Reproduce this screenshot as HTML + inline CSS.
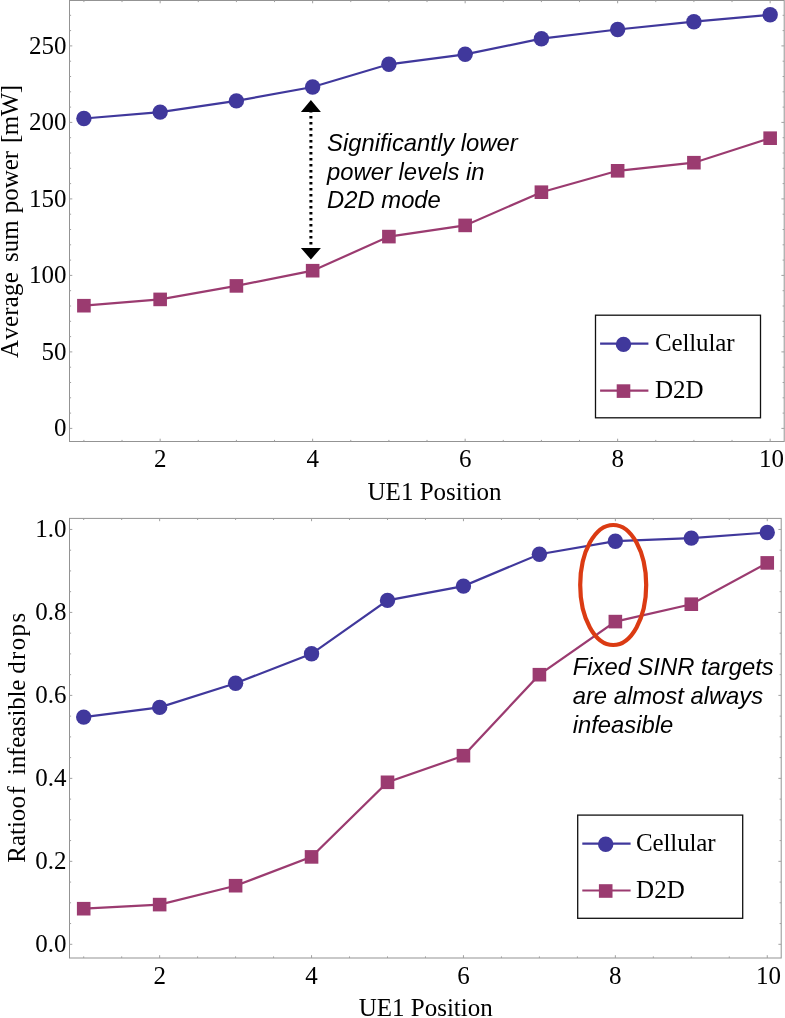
<!DOCTYPE html>
<html><head><meta charset="utf-8"><title>UE1 Position charts</title>
<style>
html,body{margin:0;padding:0;background:#fff}
svg{display:block}
.s{font-family:"Liberation Serif", serif;font-size:25px;fill:#000;font-kerning:none}
.i{font-family:"Liberation Sans", sans-serif;font-size:23.8px;font-style:italic;fill:#000}
</style></head><body>
<svg width="785" height="1018" viewBox="0 0 785 1018">
<rect width="785" height="1018" fill="#fff"/>
<rect x="69.5" y="0.5" width="714.7" height="441.0" fill="none" stroke="#939393" stroke-width="1"/>
<path d="M83.90 441.5v-1.6M83.90 0.5v1.6M122.03 441.5v-1.6M122.03 0.5v1.6M160.15 441.5v-2.8M160.15 0.5v2.8M198.28 441.5v-1.6M198.28 0.5v1.6M236.40 441.5v-1.6M236.40 0.5v1.6M274.52 441.5v-1.6M274.52 0.5v1.6M312.65 441.5v-2.8M312.65 0.5v2.8M350.77 441.5v-1.6M350.77 0.5v1.6M388.90 441.5v-1.6M388.90 0.5v1.6M427.02 441.5v-1.6M427.02 0.5v1.6M465.15 441.5v-2.8M465.15 0.5v2.8M503.27 441.5v-1.6M503.27 0.5v1.6M541.40 441.5v-1.6M541.40 0.5v1.6M579.52 441.5v-1.6M579.52 0.5v1.6M617.65 441.5v-2.8M617.65 0.5v2.8M655.77 441.5v-1.6M655.77 0.5v1.6M693.90 441.5v-1.6M693.90 0.5v1.6M732.02 441.5v-1.6M732.02 0.5v1.6M770.15 441.5v-2.8M770.15 0.5v2.8M69.5 428.40h2.8M784.2 428.40h-2.8M69.5 351.90h2.8M784.2 351.90h-2.8M69.5 275.40h2.8M784.2 275.40h-2.8M69.5 198.90h2.8M784.2 198.90h-2.8M69.5 122.40h2.8M784.2 122.40h-2.8M69.5 45.90h2.8M784.2 45.90h-2.8M69.5 413.10h1.6M784.2 413.10h-1.6M69.5 397.80h1.6M784.2 397.80h-1.6M69.5 382.50h1.6M784.2 382.50h-1.6M69.5 367.20h1.6M784.2 367.20h-1.6M69.5 336.60h1.6M784.2 336.60h-1.6M69.5 321.30h1.6M784.2 321.30h-1.6M69.5 306.00h1.6M784.2 306.00h-1.6M69.5 290.70h1.6M784.2 290.70h-1.6M69.5 260.10h1.6M784.2 260.10h-1.6M69.5 244.80h1.6M784.2 244.80h-1.6M69.5 229.50h1.6M784.2 229.50h-1.6M69.5 214.20h1.6M784.2 214.20h-1.6M69.5 183.60h1.6M784.2 183.60h-1.6M69.5 168.30h1.6M784.2 168.30h-1.6M69.5 153.00h1.6M784.2 153.00h-1.6M69.5 137.70h1.6M784.2 137.70h-1.6M69.5 107.10h1.6M784.2 107.10h-1.6M69.5 91.80h1.6M784.2 91.80h-1.6M69.5 76.50h1.6M784.2 76.50h-1.6M69.5 61.20h1.6M784.2 61.20h-1.6M69.5 30.60h1.6M784.2 30.60h-1.6M69.5 15.30h1.6M784.2 15.30h-1.6" stroke="#a0a0a0" stroke-width="1" fill="none"/>
<text x="66.6" y="436.10" text-anchor="end" class="s">0</text>
<text x="66.6" y="359.60" text-anchor="end" class="s">50</text>
<text x="66.6" y="283.10" text-anchor="end" class="s">100</text>
<text x="66.6" y="206.60" text-anchor="end" class="s">150</text>
<text x="66.6" y="130.10" text-anchor="end" class="s">200</text>
<text x="66.6" y="53.60" text-anchor="end" class="s">250</text>
<text x="160.15" y="467.2" text-anchor="middle" class="s">2</text>
<text x="312.65" y="467.2" text-anchor="middle" class="s">4</text>
<text x="465.15" y="467.2" text-anchor="middle" class="s">6</text>
<text x="617.65" y="467.2" text-anchor="middle" class="s">8</text>
<text x="771.45" y="467.2" text-anchor="middle" class="s">10</text>
<text x="434.6" y="500.3" text-anchor="middle" class="s">UE1 Position</text>
<text transform="translate(17.6,358) rotate(-90)" class="s"><tspan x="0" style="letter-spacing:0.2px">Average</tspan> <tspan x="96.1" style="letter-spacing:0px">sum</tspan> <tspan x="144.7" style="letter-spacing:0px">power</tspan> <tspan x="215" style="letter-spacing:-0.5px">[mW]</tspan></text>
<polyline points="83.90,118.50 160.15,112.10 236.40,100.90 312.65,87.00 388.90,64.30 465.15,54.30 541.40,38.70 617.65,29.50 693.90,21.70 770.15,14.80" fill="none" stroke="#40389C" stroke-width="2.2"/>
<polyline points="83.90,305.70 160.15,299.40 236.40,285.90 312.65,270.70 388.90,236.60 465.15,225.40 541.40,192.20 617.65,170.80 693.90,162.70 770.15,138.20" fill="none" stroke="#9B3B70" stroke-width="2.2"/>
<circle cx="83.90" cy="118.50" r="7.7" fill="#40389C"/>
<circle cx="160.15" cy="112.10" r="7.7" fill="#40389C"/>
<circle cx="236.40" cy="100.90" r="7.7" fill="#40389C"/>
<circle cx="312.65" cy="87.00" r="7.7" fill="#40389C"/>
<circle cx="388.90" cy="64.30" r="7.7" fill="#40389C"/>
<circle cx="465.15" cy="54.30" r="7.7" fill="#40389C"/>
<circle cx="541.40" cy="38.70" r="7.7" fill="#40389C"/>
<circle cx="617.65" cy="29.50" r="7.7" fill="#40389C"/>
<circle cx="693.90" cy="21.70" r="7.7" fill="#40389C"/>
<circle cx="770.15" cy="14.80" r="7.7" fill="#40389C"/>
<rect x="77.10" y="298.90" width="13.6" height="13.6" fill="#9B3B70"/>
<rect x="153.35" y="292.60" width="13.6" height="13.6" fill="#9B3B70"/>
<rect x="229.60" y="279.10" width="13.6" height="13.6" fill="#9B3B70"/>
<rect x="305.85" y="263.90" width="13.6" height="13.6" fill="#9B3B70"/>
<rect x="382.10" y="229.80" width="13.6" height="13.6" fill="#9B3B70"/>
<rect x="458.35" y="218.60" width="13.6" height="13.6" fill="#9B3B70"/>
<rect x="534.60" y="185.40" width="13.6" height="13.6" fill="#9B3B70"/>
<rect x="610.85" y="164.00" width="13.6" height="13.6" fill="#9B3B70"/>
<rect x="687.10" y="155.90" width="13.6" height="13.6" fill="#9B3B70"/>
<rect x="763.35" y="131.40" width="13.6" height="13.6" fill="#9B3B70"/>
<rect x="595.5" y="315.2" width="165" height="102.6" fill="#fff" stroke="#111" stroke-width="1.3"/>
<path d="M600.1 343.7h48.3" stroke="#40389C" stroke-width="2.2"/>
<circle cx="623.5" cy="344.4" r="7.7" fill="#40389C"/>
<path d="M600.1 390.6h48.3" stroke="#9B3B70" stroke-width="2.2"/>
<rect x="616.7" y="384.3" width="13.6" height="13.6" fill="#9B3B70"/>
<text x="655.0" y="351.0" class="s" style="letter-spacing:-0.15px">Cellular</text>
<text x="655.0" y="398.4" class="s">D2D</text>
<path d="M310.9 111V249" stroke="#000" stroke-width="3" stroke-dasharray="2.6 3.4" stroke-dashoffset="-4.9" fill="none"/>
<path d="M310.9 100l10 12h-20zM310.9 259.5l10 -11.5h-20z" fill="#000"/>
<text class="i" x="327.1" y="150.5">Significantly lower</text>
<text class="i" x="327.1" y="179.5">power levels in</text>
<text class="i" x="327.1" y="208.2">D2D mode</text>
<rect x="69.5" y="518.4" width="711.7" height="439.6" fill="none" stroke="#939393" stroke-width="1"/>
<path d="M83.70 958v-1.6M83.70 518.4v1.6M121.68 958v-1.6M121.68 518.4v1.6M159.65 958v-2.8M159.65 518.4v2.8M197.62 958v-1.6M197.62 518.4v1.6M235.60 958v-1.6M235.60 518.4v1.6M273.57 958v-1.6M273.57 518.4v1.6M311.55 958v-2.8M311.55 518.4v2.8M349.52 958v-1.6M349.52 518.4v1.6M387.50 958v-1.6M387.50 518.4v1.6M425.48 958v-1.6M425.48 518.4v1.6M463.45 958v-2.8M463.45 518.4v2.8M501.43 958v-1.6M501.43 518.4v1.6M539.40 958v-1.6M539.40 518.4v1.6M577.38 958v-1.6M577.38 518.4v1.6M615.35 958v-2.8M615.35 518.4v2.8M653.33 958v-1.6M653.33 518.4v1.6M691.30 958v-1.6M691.30 518.4v1.6M729.28 958v-1.6M729.28 518.4v1.6M767.25 958v-2.8M767.25 518.4v2.8M69.5 944.30h2.8M781.2 944.30h-2.8M69.5 861.33h2.8M781.2 861.33h-2.8M69.5 778.36h2.8M781.2 778.36h-2.8M69.5 695.39h2.8M781.2 695.39h-2.8M69.5 612.42h2.8M781.2 612.42h-2.8M69.5 529.45h2.8M781.2 529.45h-2.8M69.5 923.56h1.6M781.2 923.56h-1.6M69.5 902.81h1.6M781.2 902.81h-1.6M69.5 882.07h1.6M781.2 882.07h-1.6M69.5 840.59h1.6M781.2 840.59h-1.6M69.5 819.85h1.6M781.2 819.85h-1.6M69.5 799.10h1.6M781.2 799.10h-1.6M69.5 757.62h1.6M781.2 757.62h-1.6M69.5 736.88h1.6M781.2 736.88h-1.6M69.5 716.13h1.6M781.2 716.13h-1.6M69.5 674.65h1.6M781.2 674.65h-1.6M69.5 653.90h1.6M781.2 653.90h-1.6M69.5 633.16h1.6M781.2 633.16h-1.6M69.5 591.68h1.6M781.2 591.68h-1.6M69.5 570.93h1.6M781.2 570.93h-1.6M69.5 550.19h1.6M781.2 550.19h-1.6" stroke="#a0a0a0" stroke-width="1" fill="none"/>
<text x="66.6" y="952.00" text-anchor="end" class="s">0.0</text>
<text x="66.6" y="869.03" text-anchor="end" class="s">0.2</text>
<text x="66.6" y="786.06" text-anchor="end" class="s">0.4</text>
<text x="66.6" y="703.09" text-anchor="end" class="s">0.6</text>
<text x="66.6" y="620.12" text-anchor="end" class="s">0.8</text>
<text x="66.6" y="537.15" text-anchor="end" class="s">1.0</text>
<text x="159.65" y="984" text-anchor="middle" class="s">2</text>
<text x="311.55" y="984" text-anchor="middle" class="s">4</text>
<text x="463.45" y="984" text-anchor="middle" class="s">6</text>
<text x="615.35" y="984" text-anchor="middle" class="s">8</text>
<text x="768.55" y="984" text-anchor="middle" class="s">10</text>
<text x="425.7" y="1016.4" text-anchor="middle" class="s">UE1 Position</text>
<text transform="translate(24.7,862) rotate(-90)" class="s"><tspan x="-0.8" style="letter-spacing:0px">Ratio</tspan> <tspan x="53.4" style="letter-spacing:1.5px">of</tspan> <tspan x="87" style="letter-spacing:-0.2px">infeasible</tspan> <tspan x="188.2" style="letter-spacing:1.35px">drops</tspan></text>
<polyline points="83.70,717.10 159.65,707.40 235.60,683.20 311.55,653.80 387.50,600.40 463.45,586.10 539.40,554.20 615.35,541.20 691.30,538.10 767.25,532.50" fill="none" stroke="#40389C" stroke-width="2.2"/>
<polyline points="83.70,908.70 159.65,904.60 235.60,885.70 311.55,856.90 387.50,782.30 463.45,755.70 539.40,674.70 615.35,621.60 691.30,604.20 767.25,562.90" fill="none" stroke="#9B3B70" stroke-width="2.2"/>
<circle cx="83.70" cy="717.10" r="7.7" fill="#40389C"/>
<circle cx="159.65" cy="707.40" r="7.7" fill="#40389C"/>
<circle cx="235.60" cy="683.20" r="7.7" fill="#40389C"/>
<circle cx="311.55" cy="653.80" r="7.7" fill="#40389C"/>
<circle cx="387.50" cy="600.40" r="7.7" fill="#40389C"/>
<circle cx="463.45" cy="586.10" r="7.7" fill="#40389C"/>
<circle cx="539.40" cy="554.20" r="7.7" fill="#40389C"/>
<circle cx="615.35" cy="541.20" r="7.7" fill="#40389C"/>
<circle cx="691.30" cy="538.10" r="7.7" fill="#40389C"/>
<circle cx="767.25" cy="532.50" r="7.7" fill="#40389C"/>
<rect x="76.90" y="901.90" width="13.6" height="13.6" fill="#9B3B70"/>
<rect x="152.85" y="897.80" width="13.6" height="13.6" fill="#9B3B70"/>
<rect x="228.80" y="878.90" width="13.6" height="13.6" fill="#9B3B70"/>
<rect x="304.75" y="850.10" width="13.6" height="13.6" fill="#9B3B70"/>
<rect x="380.70" y="775.50" width="13.6" height="13.6" fill="#9B3B70"/>
<rect x="456.65" y="748.90" width="13.6" height="13.6" fill="#9B3B70"/>
<rect x="532.60" y="667.90" width="13.6" height="13.6" fill="#9B3B70"/>
<rect x="608.55" y="614.80" width="13.6" height="13.6" fill="#9B3B70"/>
<rect x="684.50" y="597.40" width="13.6" height="13.6" fill="#9B3B70"/>
<rect x="760.45" y="556.10" width="13.6" height="13.6" fill="#9B3B70"/>
<rect x="577.7" y="815.1" width="165" height="103.2" fill="#fff" stroke="#111" stroke-width="1.3"/>
<path d="M582.3000000000001 843.6h48.3" stroke="#40389C" stroke-width="2.2"/>
<circle cx="605.7" cy="844.3000000000001" r="7.7" fill="#40389C"/>
<path d="M582.3000000000001 890.5h48.3" stroke="#9B3B70" stroke-width="2.2"/>
<rect x="598.9000000000001" y="884.2" width="13.6" height="13.6" fill="#9B3B70"/>
<text x="636.1" y="850.9" class="s" style="letter-spacing:-0.15px">Cellular</text>
<text x="636.1" y="898.3000000000001" class="s">D2D</text>
<ellipse cx="613.2" cy="585" rx="33" ry="60" fill="none" stroke="#DB3B13" stroke-width="4.2"/>
<text class="i" x="572.7" y="674.8">Fixed SINR targets</text>
<text class="i" x="572.7" y="703.6">are almost always</text>
<text class="i" x="572.7" y="732.7">infeasible</text>
</svg>
</body></html>
